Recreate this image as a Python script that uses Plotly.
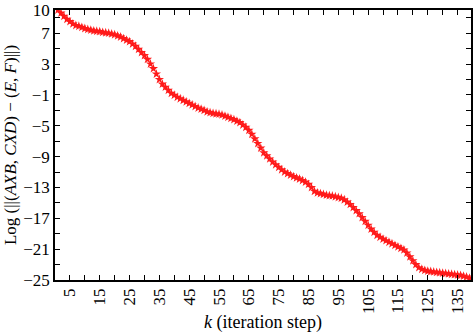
import plotly.graph_objects as go

k = list(range(1, 140))
err = [10.0, 9.6, 9.2, 8.8, 8.5, 8.2, 8.0, 7.9, 7.75, 7.6,
       7.5, 7.4, 7.3, 7.25, 7.2, 7.1, 7.05, 7.0, 6.9, 6.8,
       6.65, 6.5, 6.3, 6.1, 5.9, 5.6, 5.3, 4.9, 4.5, 4.1,
       3.6, 3.0, 2.4, 1.7, 1.0, 0.4, 0.0, -0.4, -0.8, -1.05,
       -1.3, -1.5, -1.7, -1.9, -2.1, -2.3, -2.5, -2.7, -2.85, -3.0,
       -3.2, -3.3, -3.4, -3.45, -3.5, -3.6, -3.75, -3.9, -4.05, -4.2,
       -4.4, -4.6, -4.9, -5.2, -5.6, -6.1, -6.7, -7.3, -7.9, -8.5,
       -8.9, -9.3, -9.7, -10.05, -10.4, -10.7, -11.0, -11.2, -11.4, -11.6,
       -11.75, -11.9, -12.1, -12.3, -12.6, -13.0, -13.5, -13.7, -13.8, -13.9,
       -14.0, -14.05, -14.1, -14.2, -14.3, -14.4, -14.6, -14.9, -15.2, -15.6,
       -16.0, -16.4, -16.9, -17.4, -17.9, -18.4, -18.8, -19.2, -19.45, -19.7,
       -19.9, -20.1, -20.3, -20.5, -20.7, -20.9, -21.1, -21.5, -22.0, -22.5,
       -23.0, -23.4, -23.6, -23.75, -23.85, -23.9, -23.95, -24.0, -24.05, -24.1,
       -24.15, -24.2, -24.25, -24.3, -24.35, -24.4, -24.5, -24.6, -24.75]

xticks = [5, 15, 25, 35, 45, 55, 65, 75, 85, 95, 105, 115, 125, 135]
yticks = [10, 7, 3, -1, -5, -9, -13, -17, -21, -25]
yticklabels = ["10", "7", "3", "\u22121", "\u22125", "\u22129", "\u221213", "\u221217", "\u221221", "\u221225"]

fig = go.Figure(go.Scatter(
    x=k, y=err, mode="markers",
    marker=dict(symbol="star", size=7, color="#ff1a1a", line=dict(width=0)),
))

font = "Liberation Serif"
fig.update_layout(
    width=474, height=333,
    margin=dict(l=55, r=1, t=10, b=53),
    plot_bgcolor="white", paper_bgcolor="white",
    showlegend=False,
    font=dict(family=font, size=17, color="black"),
)
fig.update_xaxes(
    range=[0, 139.5], tickvals=xticks, tickangle=-90,
    ticks="inside", ticklen=5, tickcolor="black", tickwidth=1,
    minor=dict(tick0=0, dtick=5, ticks="inside", ticklen=5, tickcolor="black"),
    showline=True, linecolor="black", linewidth=1.5, mirror="ticks",
    showgrid=False, zeroline=False,
    title=dict(text="<i>k</i> (iteration step)", standoff=4, font=dict(size=18)),
)
fig.update_yaxes(
    range=[-25, 10], tickvals=yticks, ticktext=yticklabels,
    ticks="inside", ticklen=5, tickcolor="black", tickwidth=1,
    minor=dict(tick0=-25, dtick=2, ticks="inside", ticklen=5, tickcolor="black"),
    showline=True, linecolor="black", linewidth=1.5, mirror="ticks",
    showgrid=False, zeroline=False,
    title=dict(text="Log (||(<i>AXB</i>, <i>CXD</i>) \u2212 (<i>E</i>, <i>F</i>)||)", standoff=2, font=dict(size=17)),
)
fig.write_html("out.html")
